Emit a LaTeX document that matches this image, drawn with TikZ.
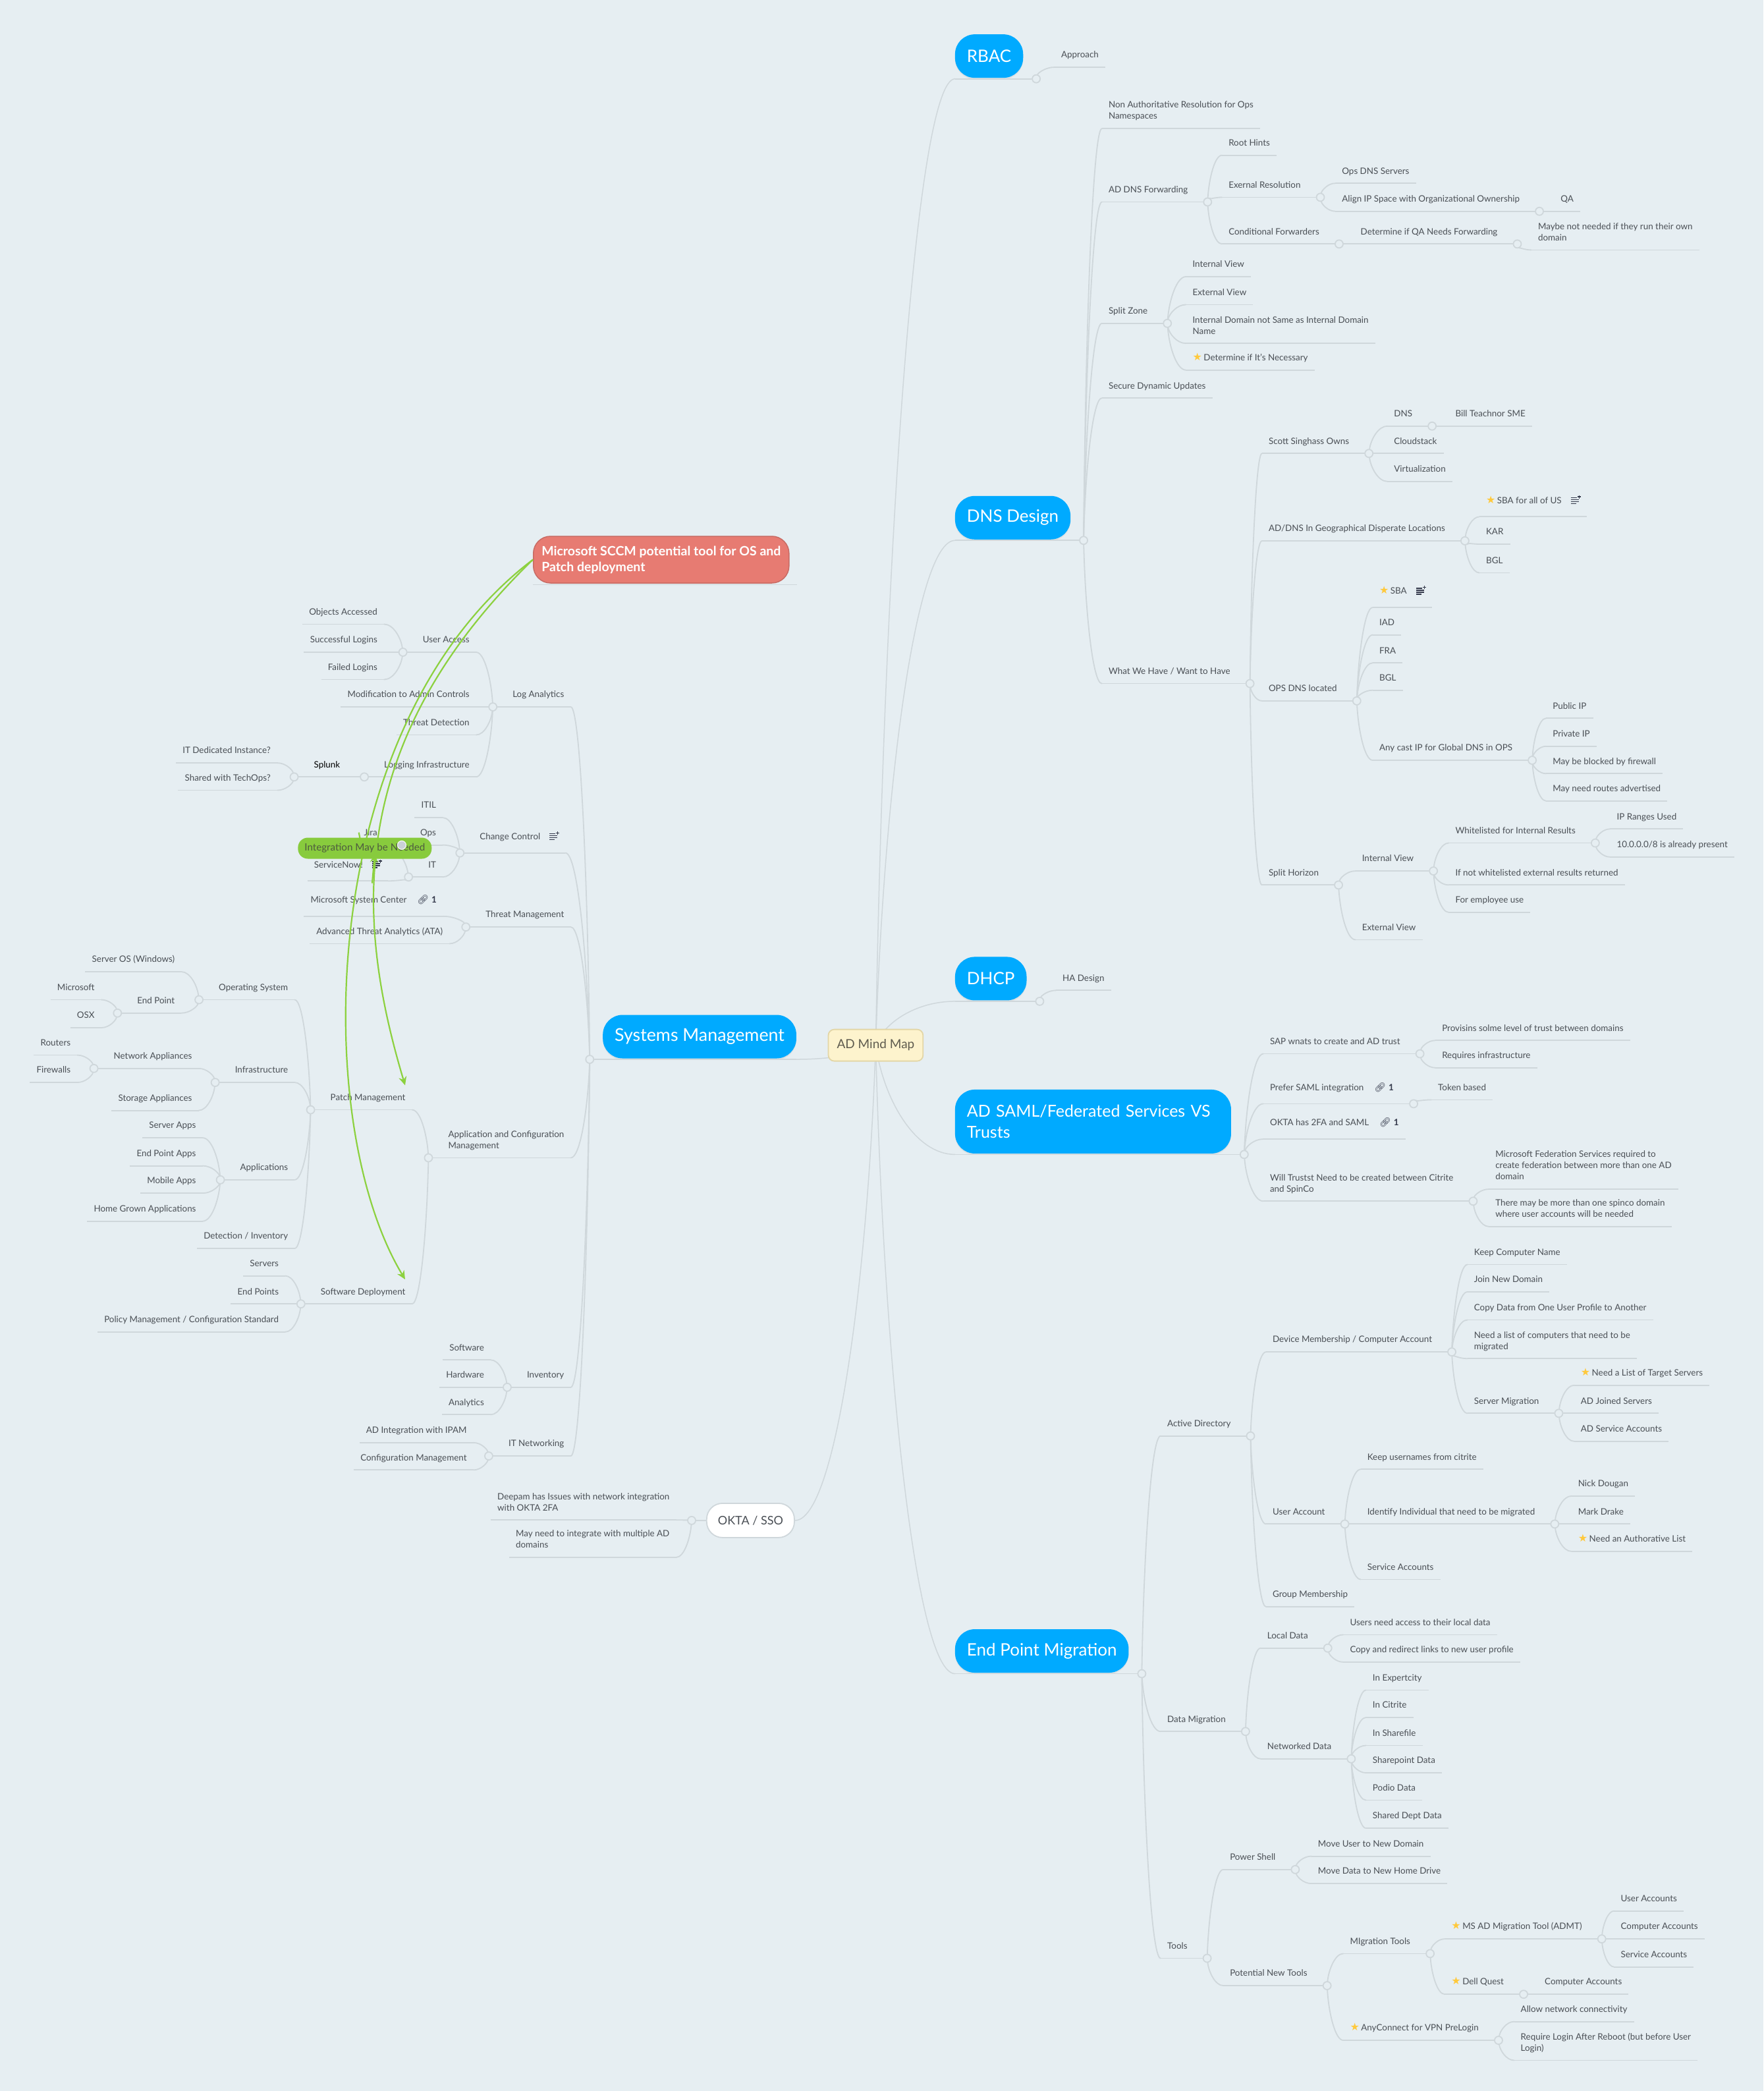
\documentclass[tikz,border=0pt]{standalone}
\usepackage{fontspec}
\setmainfont{Lato}
\newfontfamily\emojifont{Noto Emoji}
\newfontfamily\dejavufont{DejaVu Sans}
\usetikzlibrary{arrows.meta,calc,positioning,shadows}
\definecolor{mapbg}{HTML}{E6EEF2}
\definecolor{linecol}{HTML}{CFD7DB}
\definecolor{textcol}{HTML}{4A4F55}
\definecolor{bluecol}{HTML}{00AAFF}
\definecolor{relcol}{HTML}{8CD13F}
\definecolor{iconcol}{HTML}{33384A}
\definecolor{starcol}{HTML}{FFC93C}
\definecolor{redfill}{HTML}{E77B72}
\definecolor{reddraw}{HTML}{C86B64}
\definecolor{rootfill}{HTML}{FDF3CD}
\definecolor{rootdraw}{HTML}{E3D6A6}
\definecolor{roottext}{HTML}{5E5B4E}
\definecolor{greentext}{HTML}{4E5B3F}
\pgfdeclarelayer{paper}
\pgfdeclarelayer{links}
\pgfsetlayers{paper,links,main}
\newcommand{\staricon}{{\dejavufont\fontsize{16}{16}\selectfont\textcolor{starcol}{★}}\kern 2.5pt}
\newcommand{\noteicon}{\kern 14pt{\color{iconcol}\rlap{\rule[-1pt]{8pt}{1.6pt}}\rlap{\rule[2pt]{12pt}{1.6pt}}\rlap{\rule[5pt]{12pt}{1.6pt}}\rlap{\rule[8pt]{9pt}{1.6pt}}\rlap{\kern 10pt\rule[9.5pt]{5pt}{1.3pt}}\rlap{\kern 11.8pt\rule[7.5pt]{1.3pt}{5pt}}}\kern 14pt}
\newcommand{\linkicon}{\kern 16pt{\color{iconcol}{\emojifont\fontsize{14}{14}\selectfont 🔗}\kern 4pt\textbf{1}}}
\tikzset{
    plain/.style={draw=linecol, line width=1.8pt},
    hub/.style={circle, draw=linecol, line width=1.8pt, fill=mapbg, inner sep=0pt, minimum size=12pt},
    link/.style={plain, line cap=round},
    rootlink/.style={draw=linecol, line width=1.5pt},
    branch/.style={to path={let \p1=(\tikztostart), \p2=(\tikztotarget) in
        .. controls ({\x1+0.1*(\x2-\x1)},{\y1+0.5*(\y2-\y1)}) and ({\x1+0.5*(\x2-\x1)},\y2) .. (\tikztotarget)}},
    under/.style={append after command={(\tikzlastnode.south west) edge[plain] (\tikzlastnode.south east)}},
    leaf/.style={under, inner xsep=10pt, inner ysep=11pt, text depth=3pt, align=left, text=textcol,
        font=\fontsize{13.4}{17}\selectfont},
    rleaf/.style={leaf, anchor=south west, xshift=-10pt, yshift=-19pt},
    lleaf/.style={leaf, anchor=south east, xshift=10pt, yshift=-19pt},
    tall/.style={text depth=9pt, yshift=-6pt},
    bluepill/.style={under, rectangle, rounded corners=30pt, fill=bluecol, text=white, align=left, anchor=north west,
        minimum height=66pt, inner xsep=18pt, outer ysep=1.5pt, outer xsep=0pt,
        font=\fontsize{26}{32}\selectfont, drop shadow={shadow xshift=0pt, shadow yshift=-2pt, opacity=.12}},
    okpill/.style={rectangle, rounded corners=24pt, draw=linecol, line width=1.8pt, fill=white, text=textcol,
        minimum height=52pt, inner xsep=17pt, font=\fontsize{18}{24}\selectfont},
    redpill/.style={rectangle, rounded corners=26pt, draw=reddraw, line width=1.5pt, fill=redfill,
        text=white, align=left, anchor=west, minimum height=71pt, inner xsep=12.5pt, outer ysep=2.5pt,
        font=\fontsize{19.5}{24}\selectfont\bfseries,
        append after command={(\tikzlastnode.south west) edge[plain] ([xshift=11pt]\tikzlastnode.south east)}},
    rootbox/.style={rectangle, rounded corners=9pt, draw=rootdraw, line width=1.8pt, fill=rootfill,
        text=roottext, minimum height=48pt, inner xsep=13pt, font=\fontsize{19}{24}\selectfont},
    greenpill/.style={rectangle, rounded corners=15pt, fill=relcol!97!black, text=greentext,
        minimum height=32pt, inner xsep=10pt, font=\fontsize{15.2}{20}\selectfont},
    rel/.style={draw=relcol, line width=2.2pt},
    relarrow/.style={rel, -{Stealth[length=13pt,width=12pt]}}
}
\begin{document}
\begin{tikzpicture}[x=2.025pt,y=-2.025pt]
    \useasboundingbox (0,0) rectangle (1322,1567.4);
    \begin{pgfonlayer}{paper}
    \fill[mapbg] (0,0) rectangle (1322,1567.4);
    \end{pgfonlayer}
    % main topics
    \node[rootbox] (root) at (656.5,783.5) {AD Mind Map};
    \node[bluepill] (rbac) at (716,25) {RBAC};
    \node[bluepill] (dns) at (716,371) {DNS Design};
    \node[bluepill] (dhcp) at (716,716.5) {DHCP};
    \node[bluepill, text width=383pt, minimum height=97pt, font=\fontsize{25}{32}\selectfont] (saml) at (716,816) {AD SAML/Federated Services VS\\Trusts};
    \node[bluepill] (endpoint) at (716,1220.5) {End Point Migration};
    \node[bluepill, anchor=north east, font=\fontsize{26.8}{32}\selectfont] (sysmgmt) at (597,760) {Systems Management};
    \node[okpill, anchor=east] (okta) at (596,1139.7) {OKTA / SSO};
    % rbac and dhcp
    \node[rleaf] (approach) at (795.5,41) {Approach};
    \node[rleaf] (hadesign) at (796.5,733) {HA Design};
    % dns design
    \node[rleaf] (nonauth) at (831,87) {Non Authoritative Resolution for Ops\\Namespaces};
    \node[rleaf] (dnsfwd) at (831,142) {AD DNS Forwarding};
    \node[rleaf] (splitzone) at (831,233) {Split Zone};
    \node[rleaf] (secure) at (831,289) {Secure Dynamic Updates};
    \node[rleaf] (wehave) at (831,503) {What We Have / Want to Have};
    \node[rleaf] (roothints) at (921,107) {Root Hints};
    \node[rleaf] (extres) at (921,138.5) {Exernal Resolution};
    \node[rleaf] (condfwd) at (921,173.5) {Conditional Forwarders};
    \node[rleaf] (opsservers) at (1006,128) {Ops DNS Servers};
    \node[rleaf] (alignip) at (1006,149) {Align IP Space with Organizational Ownership};
    \node[rleaf] (qa) at (1170,149) {QA};
    \node[rleaf] (qafwd) at (1020,173.5) {Determine if QA Needs Forwarding};
    \node[rleaf] (maybenot) at (1153,178) {Maybe not needed if they run their own\\domain};
    \node[rleaf] (intzone) at (894,198) {Internal View};
    \node[rleaf] (extzone) at (894,219) {External View};
    \node[rleaf] (intdomain) at (894,248) {Internal Domain not Same as Internal Domain\\Name};
    \node[rleaf] (necessary) at (894,268) {\staricon Determine if It's Necessary};
    \node[rleaf] (scott) at (951,330.5) {Scott Singhass Owns};
    \node[rleaf] (geo) at (951,396) {AD/DNS In Geographical Disperate Locations};
    \node[rleaf] (opsdns) at (951,516) {OPS DNS located};
    \node[rleaf] (horizon) at (951,654) {Split Horizon};
    \node[rleaf] (dnsown) at (1045,310) {DNS};
    \node[rleaf] (cloudstack) at (1045,330.5) {Cloudstack};
    \node[rleaf] (virtual) at (1045,351.5) {Virtualization};
    \node[rleaf] (teachnor) at (1091,310) {Bill Teachnor SME};
    \node[rleaf,tall] (sbaus) at (1114,375) {\staricon SBA for all of US\noteicon};
    \node[rleaf] (kar) at (1114,398.5) {KAR};
    \node[rleaf] (bglgeo) at (1114,420) {BGL};
    \node[rleaf,tall] (sba) at (1034,443) {\staricon SBA\noteicon};
    \node[rleaf] (iad) at (1034,466.5) {IAD};
    \node[rleaf] (fra) at (1034,487.5) {FRA};
    \node[rleaf] (bglops) at (1034,508) {BGL};
    \node[rleaf] (anycast) at (1034,560.5) {Any cast IP for Global DNS in OPS};
    \node[rleaf] (publicip) at (1164,529) {Public IP};
    \node[rleaf] (privateip) at (1164,550) {Private IP};
    \node[rleaf] (blocked) at (1164,570.5) {May be blocked by firewall};
    \node[rleaf] (routes) at (1164,591) {May need routes advertised};
    \node[rleaf] (intview) at (1021,643.5) {Internal View};
    \node[rleaf] (extview) at (1021,695) {External View};
    \node[rleaf] (whitelist) at (1091,622.5) {Whitelisted for Internal Results};
    \node[rleaf] (notwhite) at (1091,654) {If not whitelisted external results returned};
    \node[rleaf] (employee) at (1091,674.5) {For employee use};
    \node[rleaf] (ipranges) at (1212,612) {IP Ranges Used};
    \node[rleaf] (tenzero) at (1212,633) {10.0.0.0/8 is already present};
    % saml
    \node[rleaf] (saptrust) at (952,780.5) {SAP wnats to create and AD trust};
    \node[rleaf,tall] (prefer) at (952,815) {Prefer SAML integration\linkicon};
    \node[rleaf,tall] (okta2fa) at (952,841.5) {OKTA has 2FA and SAML\linkicon};
    \node[rleaf] (trustst) at (952,891) {Will Trustst Need to be created between Citrite\\and SpinCo};
    \node[rleaf] (provisins) at (1081,770.5) {Provisins solme level of trust between domains};
    \node[rleaf] (reqinfra) at (1081,791) {Requires infrastructure};
    \node[rleaf] (token) at (1078,815) {Token based};
    \node[rleaf] (msfed) at (1121,882) {Microsoft Federation Services required to\\create federation between more than one AD\\domain};
    \node[rleaf] (spinco) at (1121,910) {There may be more than one spinco domain\\where user accounts will be needed};
    % end point migration
    \node[rleaf] (activedir) at (875,1067) {Active Directory};
    \node[rleaf] (datamig) at (875,1288.5) {Data Migration};
    \node[rleaf] (tools) at (875,1458.5) {Tools};
    \node[rleaf] (devmem) at (954,1004) {Device Membership / Computer Account};
    \node[rleaf] (useracct) at (954,1133) {User Account};
    \node[rleaf] (groupmem) at (954,1195) {Group Membership};
    \node[rleaf] (keepname) at (1105,938.5) {Keep Computer Name};
    \node[rleaf] (joindomain) at (1105,959) {Join New Domain};
    \node[rleaf] (copydata) at (1105,980) {Copy Data from One User Profile to Another};
    \node[rleaf] (needlist) at (1105,1009) {Need a list of computers that need to be\\migrated};
    \node[rleaf] (servermig) at (1105,1050) {Server Migration};
    \node[rleaf] (targets) at (1185,1029) {\staricon Need a List of Target Servers};
    \node[rleaf] (joined) at (1185,1050) {AD Joined Servers};
    \node[rleaf] (adservice) at (1185,1071) {AD Service Accounts};
    \node[rleaf] (usernames) at (1025,1092) {Keep usernames from citrite};
    \node[rleaf] (identify) at (1025,1133) {Identify Individual that need to be migrated};
    \node[rleaf] (svcaccts) at (1025,1174.5) {Service Accounts};
    \node[rleaf] (nick) at (1183,1112) {Nick Dougan};
    \node[rleaf] (mark) at (1183,1133) {Mark Drake};
    \node[rleaf] (authlist) at (1183,1153.5) {\staricon Need an Authorative List};
    \node[rleaf] (localdata) at (950,1226) {Local Data};
    \node[rleaf] (netdata) at (950,1309) {Networked Data};
    \node[rleaf] (useraccess2) at (1012,1216) {Users need access to their local data};
    \node[rleaf] (redirect) at (1012,1236.5) {Copy and redirect links to new user profile};
    \node[rleaf] (expertcity) at (1029,1257.5) {In Expertcity};
    \node[rleaf] (citrite) at (1029,1278) {In Citrite};
    \node[rleaf] (sharefile) at (1029,1299) {In Sharefile};
    \node[rleaf] (sharepoint) at (1029,1319.5) {Sharepoint Data};
    \node[rleaf] (podio) at (1029,1340) {Podio Data};
    \node[rleaf] (shared) at (1029,1361) {Shared Dept Data};
    \node[rleaf] (powershell) at (922,1392) {Power Shell};
    \node[rleaf] (newtools) at (922,1479) {Potential New Tools};
    \node[rleaf] (moveuser) at (988,1382) {Move User to New Domain};
    \node[rleaf] (movedata) at (988,1402.5) {Move Data to New Home Drive};
    \node[rleaf] (migtools) at (1012,1455) {MIgration Tools};
    \node[rleaf] (anyconnect) at (1012,1520) {\staricon AnyConnect for VPN PreLogin};
    \node[rleaf] (admt) at (1088,1444) {\staricon MS AD Migration Tool (ADMT)};
    \node[rleaf] (dellquest) at (1088,1485.5) {\staricon Dell Quest};
    \node[rleaf] (useraccts) at (1215,1423) {User Accounts};
    \node[rleaf] (compaccts) at (1215,1444) {Computer Accounts};
    \node[rleaf] (serviceaccts) at (1215,1465) {Service Accounts};
    \node[rleaf] (dellcomp) at (1158,1485.5) {Computer Accounts};
    \node[rleaf] (allownet) at (1140,1506) {Allow network connectivity};
    \node[rleaf] (reboot) at (1140,1535) {Require Login After Reboot (but before User\\Login)};
    % systems management
    \node[lleaf] (loganalytics) at (423,520.5) {Log Analytics};
    \node[lleaf,tall] (changectl) at (419,627) {Change Control\noteicon};
    \node[lleaf] (threatmgmt) at (423,685.5) {Threat Management};
    \node[lleaf] (appconfig) at (423,858.5) {Application and Configuration\\Management};
    \node[lleaf] (inventory) at (423,1030.5) {Inventory};
    \node[lleaf] (itnet) at (423,1082) {IT Networking};
    \node[lleaf] (useraccess) at (352,479.5) {User Access};
    \node[lleaf] (modadmin) at (352,520.5) {Modification to Admin Controls};
    \node[lleaf] (threatdet) at (352,541.5) {Threat Detection};
    \node[lleaf] (logging) at (352,573) {Logging Infrastructure};
    \node[lleaf] (objects) at (283,458.5) {Objects Accessed};
    \node[lleaf] (successful) at (283,479.5) {Successful Logins};
    \node[lleaf] (failed) at (283,500) {Failed Logins};
    \node[lleaf, text=black] (splunk) at (255,573) {Splunk};
    \node[lleaf] (dedicated) at (203,562.5) {IT Dedicated Instance?};
    \node[lleaf] (sharedops) at (203,583) {Shared with TechOps?};
    \node[lleaf] (itil) at (327,603.5) {ITIL};
    \node[lleaf] (opsctl) at (327,624) {Ops};
    \node[lleaf] (itctl) at (327,648) {IT};
    \node[lleaf] (jira) at (283,624) {Jira};
    \node[lleaf,tall] (servicenow) at (286,648) {ServiceNow!\noteicon};
    \node[lleaf,tall] (syscenter) at (327.5,674.5) {Microsoft System Center\linkicon};
    \node[lleaf] (ata) at (332,698) {Advanced Threat Analytics (ATA)};
    \node[lleaf] (patch) at (304,822.5) {Patch Management};
    \node[lleaf] (softdeploy) at (304,968) {Software Deployment};
    \node[lleaf] (opsys) at (216,740) {Operating System};
    \node[lleaf] (infra) at (216,802) {Infrastructure};
    \node[lleaf] (apps) at (216,875) {Applications};
    \node[lleaf] (detection) at (216,926.5) {Detection / Inventory};
    \node[lleaf] (serveros) at (131,719) {Server OS (Windows)};
    \node[lleaf] (endpt) at (131,750) {End Point};
    \node[lleaf] (microsoft) at (71,740) {Microsoft};
    \node[lleaf] (osx) at (71,761) {OSX};
    \node[lleaf] (netappl) at (144,791.5) {Network Appliances};
    \node[lleaf] (storage) at (144,823) {Storage Appliances};
    \node[lleaf] (routers) at (53,781.5) {Routers};
    \node[lleaf] (firewalls) at (53,802) {Firewalls};
    \node[lleaf] (serverapps) at (147,843.5) {Server Apps};
    \node[lleaf] (endapps) at (147,864.5) {End Point Apps};
    \node[lleaf] (mobile) at (147,885) {Mobile Apps};
    \node[lleaf] (homegrown) at (147,906) {Home Grown Applications};
    \node[lleaf] (servers) at (209,947) {Servers};
    \node[lleaf] (endpoints) at (209,968) {End Points};
    \node[lleaf] (policy) at (209,989) {Policy Management / Configuration Standard};
    \node[lleaf] (software) at (363,1010) {Software};
    \node[lleaf] (hardware) at (363,1030.5) {Hardware};
    \node[lleaf] (analytics) at (363,1051) {Analytics};
    \node[lleaf] (ipam) at (350,1072) {AD Integration with IPAM};
    \node[lleaf] (confmgmt) at (350,1092.5) {Configuration Management};
    \node[lleaf] (deepam) at (502,1130) {Deepam has Issues with network integration\\with OKTA 2FA};
    \node[lleaf] (multiple) at (502,1158) {May need to integrate with multiple AD\\domains};
    % hubs
    \foreach \p in {rbac,dns,dhcp,saml,endpoint,dnsfwd,extres,alignip,condfwd,qafwd,splitzone,wehave,scott,
        dnsown,geo,opsdns,anycast,horizon,intview,whitelist,saptrust,prefer,trustst,activedir,devmem,
        servermig,useracct,identify,datamig,localdata,netdata,tools,powershell,newtools,migtools,admt,
        dellquest,anyconnect}
        \node[hub, right=13pt of \p.south east] (\p-h) {};
    \foreach \p in {sysmgmt,loganalytics,useraccess,logging,splunk,changectl,itctl,threatmgmt,appconfig,
        patch,opsys,endpt,infra,netappl,apps,softdeploy,inventory,itnet}
        \node[hub, left=13pt of \p.south west] (\p-h) {};
    \node[hub, left=15pt of okta.west] (okta-h) {};
    % connectors
    \begin{pgfonlayer}{links}
    \foreach \p in {rbac,dns,dhcp,saml,endpoint,dnsfwd,extres,alignip,condfwd,qafwd,splitzone,wehave,scott,
        dnsown,geo,opsdns,anycast,horizon,intview,whitelist,saptrust,prefer,trustst,activedir,devmem,
        servermig,useracct,identify,datamig,localdata,netdata,tools,powershell,newtools,migtools,admt,
        dellquest,anyconnect}
        \draw[link] (\p.south east) -- (\p-h);
    \foreach \p in {sysmgmt,loganalytics,useraccess,logging,splunk,changectl,itctl,threatmgmt,appconfig,
        patch,opsys,endpt,infra,netappl,apps,softdeploy,inventory,itnet}
        \draw[link] (\p.south west) -- (\p-h);
    \draw[link] (okta.west) -- (okta-h);
    \foreach \b in {rbac,dns,dhcp,saml,endpoint}
        \draw[rootlink] (root.center) to[branch] (\b.south west);
    \draw[rootlink] (root.center) to[branch] (sysmgmt.south east);
    \draw[rootlink] (root.center) to[branch] (okta.east);
    \foreach \a/\b in {rbac/approach,dhcp/hadesign,dns/nonauth,dns/dnsfwd,dns/splitzone,dns/secure,dns/wehave,
        dnsfwd/roothints,dnsfwd/extres,dnsfwd/condfwd,extres/opsservers,extres/alignip,alignip/qa,
        condfwd/qafwd,qafwd/maybenot,splitzone/intzone,splitzone/extzone,splitzone/intdomain,splitzone/necessary,
        wehave/scott,wehave/geo,wehave/opsdns,wehave/horizon,scott/dnsown,scott/cloudstack,scott/virtual,
        dnsown/teachnor,geo/sbaus,geo/kar,geo/bglgeo,opsdns/sba,opsdns/iad,opsdns/fra,opsdns/bglops,opsdns/anycast,
        anycast/publicip,anycast/privateip,anycast/blocked,anycast/routes,horizon/intview,horizon/extview,
        intview/whitelist,intview/notwhite,intview/employee,whitelist/ipranges,whitelist/tenzero,
        saml/saptrust,saml/prefer,saml/okta2fa,saml/trustst,saptrust/provisins,saptrust/reqinfra,prefer/token,
        trustst/msfed,trustst/spinco,endpoint/activedir,endpoint/datamig,endpoint/tools,
        activedir/devmem,activedir/useracct,activedir/groupmem,devmem/keepname,devmem/joindomain,devmem/copydata,
        devmem/needlist,devmem/servermig,servermig/targets,servermig/joined,servermig/adservice,
        useracct/usernames,useracct/identify,useracct/svcaccts,identify/nick,identify/mark,identify/authlist,
        datamig/localdata,datamig/netdata,localdata/useraccess2,localdata/redirect,netdata/expertcity,netdata/citrite,
        netdata/sharefile,netdata/sharepoint,netdata/podio,netdata/shared,tools/powershell,tools/newtools,
        powershell/moveuser,powershell/movedata,newtools/migtools,newtools/anyconnect,migtools/admt,migtools/dellquest,
        admt/useraccts,admt/compaccts,admt/serviceaccts,dellquest/dellcomp,anyconnect/allownet,anyconnect/reboot}
        \draw[link] (\a-h) to[branch] (\b.south west);
    \foreach \a/\b in {sysmgmt/loganalytics,sysmgmt/changectl,sysmgmt/threatmgmt,sysmgmt/appconfig,sysmgmt/inventory,sysmgmt/itnet,
        loganalytics/useraccess,loganalytics/modadmin,loganalytics/threatdet,loganalytics/logging,useraccess/objects,
        useraccess/successful,useraccess/failed,logging/splunk,splunk/dedicated,splunk/sharedops,changectl/itil,changectl/opsctl,
        changectl/itctl,itctl/jira,itctl/servicenow,threatmgmt/syscenter,threatmgmt/ata,appconfig/patch,appconfig/softdeploy,
        patch/opsys,patch/infra,patch/apps,patch/detection,opsys/serveros,opsys/endpt,endpt/microsoft,endpt/osx,
        infra/netappl,infra/storage,netappl/routers,netappl/firewalls,apps/serverapps,apps/endapps,apps/mobile,apps/homegrown,
        softdeploy/servers,softdeploy/endpoints,softdeploy/policy,inventory/software,inventory/hardware,inventory/analytics,
        itnet/ipam,itnet/confmgmt,okta/deepam,okta/multiple}
        \draw[link] (\a-h) to[branch] (\b.south east);
    \end{pgfonlayer}
    % relationships
    \node[redpill] (sccm) at (399.5,419.5) {Microsoft SCCM potential tool for OS and\\Patch deployment};
    \coordinate (patchtip) at (303.7,813.5);
    \coordinate (softtip) at (303.7,959);
    \coordinate (stubtop) at (269,624);
    \coordinate (stubend) at (271,634);
    \coordinate (notebelow) at (279,662);
    \coordinate (noteup) at (281,640);
    \draw[relarrow] (sccm.west) .. controls (257,558) and (267,691) .. (patchtip);
    \draw[relarrow] (sccm.west) .. controls (237,543) and (232,840) .. (softtip);
    \draw[rel] (stubtop) -- (stubend);
    \draw[relarrow] (notebelow) -- (noteup);
    \node[greenpill] (integration) at (273.5,635.8) {Integration May be Needed};
    \node[circle, fill=black!12!mapbg, draw=white, line width=1pt, inner sep=0pt, minimum size=13pt] (handle) at (301.2,633.5) {};
\end{tikzpicture}
\end{document}
